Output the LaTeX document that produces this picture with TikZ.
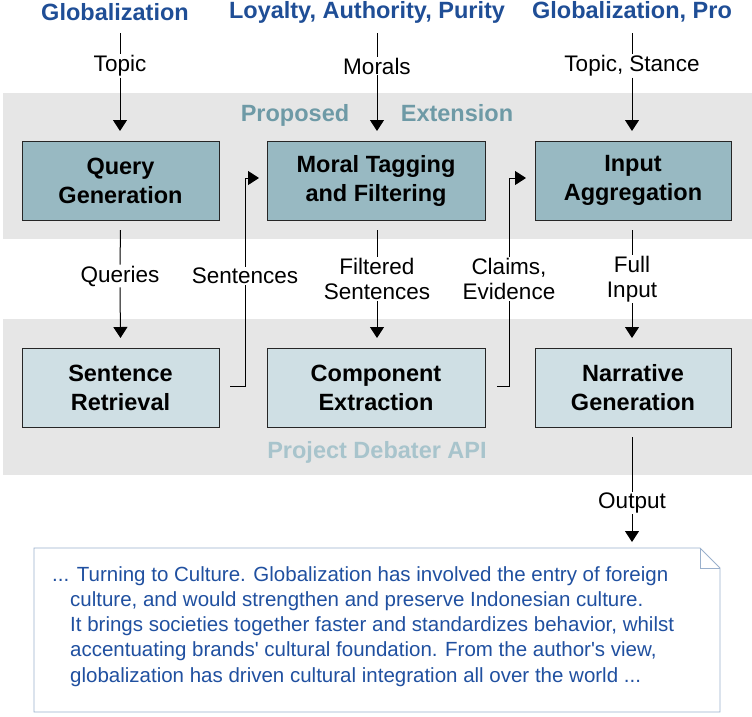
\documentclass[tikz,border=0pt]{standalone}
\usepackage{fontspec}
\setmainfont{Liberation Sans}
\usetikzlibrary{arrows.meta}
\definecolor{band}{HTML}{E6E6E6}
\definecolor{dark}{HTML}{98B9C2}
\definecolor{light}{HTML}{CFDFE4}
\definecolor{ttl}{HTML}{1F4E96}
\definecolor{ext}{HTML}{6E9AA6}
\definecolor{api}{HTML}{A8C4CC}
\definecolor{note}{HTML}{2050A0}
\definecolor{noteb}{HTML}{9AB0CC}
\tikzset{
 box/.style={draw=black!85,line width=1pt,minimum width=197pt,minimum height=79pt,align=center,font=\fontsize{23.5}{29}\selectfont\bfseries,inner sep=0pt},
 lbl/.style={font=\fontsize{22.5}{25}\selectfont,align=center,inner sep=1pt},
 top/.style={font=\fontsize{23.5}{26}\selectfont\bfseries,text=ttl},
 arr/.style={line width=1pt,-{Triangle[length=11pt,width=14pt]}},
 ln/.style={line width=1pt}
}
\begin{document}
\begin{tikzpicture}[x=1pt,y=-1pt]
\useasboundingbox (0,0) rectangle (752,716);
\fill[band] (3,93) rectangle (752,239);
\fill[band] (3,319) rectangle (752,475);
\node[font=\fontsize{23.5}{26}\selectfont\bfseries,text=ext,anchor=base] (pe1) at (295,121) {Proposed};
\node[font=\fontsize{23.5}{26}\selectfont\bfseries,text=ext,anchor=base] (pe2) at (457,121) {Extension};
\node[font=\fontsize{23.5}{26}\selectfont\bfseries,text=api] (api) at (377,452) {Project Debater API};
\node[box,fill=dark,minimum width=197pt] (qg) at (120.5,180.5) {Query\\Generation};
\node[box,fill=dark,minimum width=218pt] (mt) at (376,180.5) {Moral Tagging\\and Filtering};
\node[box,fill=dark,minimum width=196pt] (ia) at (633,180.5) {Input\\Aggregation};
\node[box,fill=light,minimum width=197pt] (sr) at (120.5,387.5) {Sentence\\Retrieval};
\node[box,fill=light,minimum width=218pt] (ce) at (376,387.5) {Component\\Extraction};
\node[box,fill=light,minimum width=196pt] (ng) at (633,387.5) {Narrative\\Generation};
\node[top] (t1) at (115,12) {Globalization};
\node[top] (t2) at (367,12) {Loyalty, Authority, Purity};
\node[top] (t3) at (632,12) {Globalization, Pro};
% top inputs
\foreach \x/\t/\n in {120/Topic/a,377/Morals/b,632/{Topic, Stance}/c}{
 \node[lbl] (l\n) at (\x,66) {\t};
 \coordinate (s\n) at (\x,33);
 \coordinate (e\n) at (\x,131);
 \draw[ln] (s\n) -- (l\n.north);
 \draw[arr] (l\n.south) -- (e\n);
}
% between rows
\node[lbl] (q) at (120,276) {Queries};
\draw[ln] (qg.south|-0,230) -- (q.north);
\draw[arr] (q.south) -- (qg.south|-0,338);
\node[lbl] (fs) at (377,279) {Filtered\\Sentences};
\draw[ln] (377,230) -- (fs.north);
\draw[arr] (fs.south) -- (377,338);
\node[lbl] (fi) at (632,279) {Full\\Input};
\draw[ln] (632,230) -- (fi.north);
\draw[arr] (fi.south) -- (632,338);
% elbows
\node[lbl] (se) at (245,276) {Sentences};
\draw[ln] (230,386) -- (245,386) -- (se.south);
\draw[arr] (se.north) -- (245,178) -- (259,178);
\node[lbl] (cl) at (509,279) {Claims,\\Evidence};
\draw[ln] (497,386) -- (509,386) -- (cl.south);
\draw[arr] (cl.north) -- (509,178) -- (526,178);
% output
\node[lbl] (out) at (632,503) {Output};
\draw[ln] (632,437) -- (out.north);
\draw[arr] (out.south) -- (632,542);
% note
\draw[noteb,line width=0.8pt,fill=white] (34,548) -- (700,548) -- (720,568) -- (720,712) -- (34,712) -- cycle;
\draw[noteb,line width=0.8pt] (700,548) -- (700,568) -- (720,568);
\node[anchor=north west,text=note,font=\fontsize{20.5}{25.3}\selectfont,align=left,inner sep=0pt] (txt) at (52,566) {%
... Turning to Culture. Globalization has involved the entry of foreign\\
\hspace*{18pt}culture, and would strengthen and preserve Indonesian culture.\\
\hspace*{18pt}It brings societies together faster and standardizes behavior, whilst\\
\hspace*{18pt}accentuating brands\textquotesingle{} cultural foundation. From the author\textquotesingle{}s view,\\
\hspace*{18pt}globalization has driven cultural integration all over the world ...};
\end{tikzpicture}
\end{document}
